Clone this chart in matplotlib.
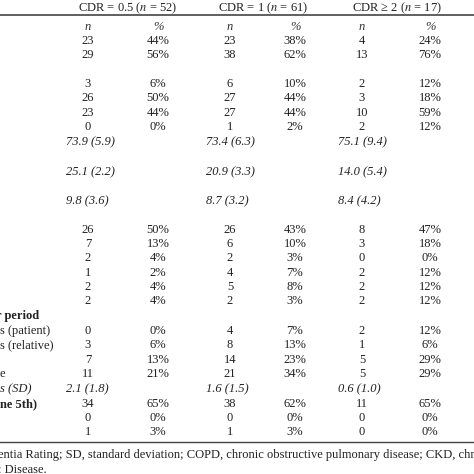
import matplotlib.pyplot as plt

headers = ["CDR = 0.5 (", "CDR = 1 (", "CDR \u2265 2 ("]
header_n = ["52", "61", "17"]
count_rows = [
    (41, ["23", "44%", "23", "38%", "4", "24%"]),
    (55, ["29", "56%", "38", "62%", "13", "76%"]),
    (84, ["3", "6%", "6", "10%", "2", "12%"]),
    (98, ["26", "50%", "27", "44%", "3", "18%"]),
    (113, ["23", "44%", "27", "44%", "10", "59%"]),
    (127, ["0", "0%", "1", "2%", "2", "12%"]),
    (230, ["26", "50%", "26", "43%", "8", "47%"]),
    (244, ["7", "13%", "6", "10%", "3", "18%"]),
    (258, ["2", "4%", "2", "3%", "0", "0%"]),
    (273, ["1", "2%", "4", "7%", "2", "12%"]),
    (287, ["2", "4%", "5", "8%", "2", "12%"]),
    (301, ["2", "4%", "2", "3%", "2", "12%"]),
    (331, ["0", "0%", "4", "7%", "2", "12%"]),
    (345, ["3", "6%", "8", "13%", "1", "6%"]),
    (360, ["7", "13%", "14", "23%", "5", "29%"]),
    (374, ["11", "21%", "21", "34%", "5", "29%"]),
    (404, ["34", "65%", "38", "62%", "11", "65%"]),
    (418, ["0", "0%", "0", "0%", "0", "0%"]),
    (432, ["1", "3%", "1", "3%", "0", "0%"]),
]
mean_rows = [
    (142, ["73.9 (5.9)", "73.4 (6.3)", "75.1 (9.4)"]),
    (172, ["25.1 (2.2)", "20.9 (3.3)", "14.0 (5.4)"]),
    (201, ["9.8 (3.6)", "8.7 (3.2)", "8.4 (4.2)"]),
    (389, ["2.1 (1.8)", "1.6 (1.5)", "0.6 (1.0)"]),
]
left_labels = [
    (316, "r period", "bold", "normal"),
    (331, "s (patient)", "normal", "normal"),
    (345, "s (relative)", "normal", "normal"),
    (374, "e", "normal", "normal"),
    (389, "s (SD)", "normal", "italic"),
    (404, "ne 5th)", "bold", "normal"),
]
footnote = ["entia Rating; SD, standard deviation; COPD, chronic obstructive pulmonary disease; CKD, chr",
            ": Disease."]

plt.rcParams['font.family'] = ['Liberation Serif']
plt.rcParams['mathtext.fontset'] = 'stix'
fig = plt.figure(figsize=(4.74, 4.74), dpi=100)
ax = fig.add_axes([0, 0, 1, 1])
ax.set_xlim(0, 474)
ax.set_ylim(474, 0)
ax.axis("off")
fs = 9
col_x = [88, 158, 230, 295, 362, 430]
head_x = [128, 263, 397]
mean_x = [66, 206, 338]

for hx, h, n in zip(head_x, headers, header_n):
    ax.text(hx, 8, h + "$\\mathit{n}$ = " + n + ")", ha="center", va="center", fontsize=fs, color="#222")
ax.plot([0, 474], [15, 15], color="#444", lw=1.2)
ax.plot([0, 474], [442, 442], color="#444", lw=1.0)
for i, x in enumerate(col_x):
    ax.text(x, 27, "n" if i % 2 == 0 else "%", ha="center", va="center", fontsize=fs, style="italic", color="#333")
for y, vals in count_rows:
    for x, v in zip(col_x, vals):
        ax.text(x, y, v, ha="center", va="center", fontsize=fs, color="#222")
for y, vals in mean_rows:
    for x, v in zip(mean_x, vals):
        ax.text(x, y, v, ha="left", va="center", fontsize=fs, style="italic", color="#222")
for y, t, w, s in left_labels:
    ax.text(-4 if t.startswith("r ") else 0, y, t, ha="left", va="center", fontsize=fs, weight=w, style=s, color="#222")
ax.text(-2, 455, footnote[0], ha="left", va="center", fontsize=fs, color="#222")
ax.text(-2, 470, footnote[1], ha="left", va="center", fontsize=fs, color="#222")
fig.savefig("out.png", dpi=100)
